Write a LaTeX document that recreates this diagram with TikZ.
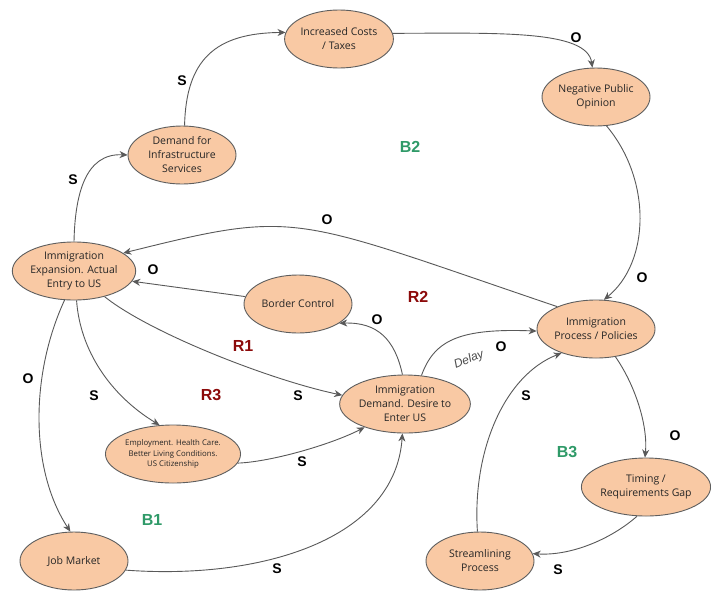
\documentclass[tikz,border=0pt]{standalone}
\usepackage{fontspec}
\setmainfont{Open Sans}
\newfontfamily\lblfont{Liberation Sans}
\usetikzlibrary{shapes.geometric,arrows.meta}
\definecolor{peach}{HTML}{F9C9A4}
\definecolor{nodeline}{HTML}{5E5E5E}
\definecolor{edgeline}{HTML}{595959}
\definecolor{loopgreen}{HTML}{2F9A68}
\definecolor{loopred}{HTML}{8C0A0A}
\tikzset{
  var/.style={ellipse, draw=nodeline, line width=0.9pt, fill=peach, minimum width=108pt, minimum height=58pt, inner sep=0pt, align=center, font=\fontsize{10.5}{14}\selectfont, text=black!85},
  smallvar/.style={var, font=\fontsize{7.8}{10.5}\selectfont},
  link/.style={draw=edgeline, line width=0.9pt, -{Stealth[length=8pt,width=7pt,inset=2.5pt]}},
  pol/.style={font=\lblfont\bfseries\fontsize{14}{14}\selectfont, inner sep=0pt},
  loopg/.style={font=\lblfont\bfseries\fontsize{16}{16}\selectfont, text=loopgreen, inner sep=0pt},
  loopr/.style={font=\lblfont\bfseries\fontsize{16}{16}\selectfont, text=loopred, inner sep=0pt},
}
\begin{document}
\begin{tikzpicture}[x=1pt,y=1pt]
\useasboundingbox (0,0) rectangle (711,-600);
\fill[white] (0,0) rectangle (711,-600);
% nodes
\node[var] (cost) at (339,-39) {Increased Costs\\/ Taxes};
\node[var] (neg) at (596,-97) {Negative Public\\Opinion};
\node[var] (infra) at (182,-155) {Demand for\\Infrastructure\\Services};
\node[var] (exp) at (74,-271) {Immigration\\Expansion. Actual\\Entry to US};
\node[var] (border) at (298,-304) {Border Control};
\node[var] (proc) at (596,-329) {Immigration\\Process / Policies};
\node[var, minimum width=110pt] (dem) at (405,-404) {Immigration\\Demand. Desire to\\Enter US};
\node[smallvar] (emp) at (173,-454) {Employment. Health Care.\\Better Living Conditions.\\US Citizenship};
\node[var] (job) at (74,-561) {Job Market};
\node[var] (timing) at (646,-487) {Timing /\\Requirements Gap};
\node[var] (stream) at (480,-561) {Streamlining\\Process};
% connectors
\draw[link] (infra.85) .. controls (186,-60) and (215,-33) .. (cost.173);
\draw[link] (cost.6) .. controls (500,-33) and (587,-30) .. (neg.97);
\draw[link] (neg.-70) .. controls (652,-180) and (650,-262) .. (proc.75);
\draw[link] (exp.90) .. controls (75,-195) and (85,-153) .. (infra.180);
\draw[link] (proc.150) .. controls (290,-216) and (300,-209) .. (exp.20);
\draw[link] (border.172) -- (exp.-10);
\draw[link] (dem.95) .. controls (395,-340) and (378,-322) .. (border.-25);
\draw[link] (dem.60) .. controls (434,-341) and (458,-328) .. (proc.182);
\draw[link] (exp.-40) .. controls (150,-333) and (270,-380) .. (dem.172);
\draw[link] (exp.-85) .. controls (80,-350) and (110,-395) .. (emp.115);
\draw[link] (emp.-8) .. controls (270,-462) and (330,-445) .. (dem.-150);
\draw[link] (exp.-108) .. controls (30,-375) and (30,-470) .. (job.97);
\draw[link] (job.-10) .. controls (260,-580) and (395,-540) .. (dem.-95);
\draw[link] (proc.-55) .. controls (635,-385) and (648,-425) .. (timing.92);
\draw[link] (timing.-107) .. controls (610,-540) and (570,-556) .. (stream.8);
\draw[link] (stream.95) .. controls (472,-450) and (505,-375) .. (proc.-145);
% polarity labels
\node[pol] (l1) at (182,-81) {S};
\node[pol] (l2) at (576,-38) {O};
\node[pol] (l3) at (642,-278) {O};
\node[pol] (l4) at (73,-180) {S};
\node[pol] (l5) at (327,-220) {O};
\node[pol] (l6) at (153,-270) {O};
\node[pol] (l7) at (377,-320) {O};
\node[pol] (l8) at (501,-347) {O};
\node[pol] (l9) at (298,-396) {S};
\node[pol] (l10) at (94,-396) {S};
\node[pol] (l11) at (28,-379) {O};
\node[pol] (l12) at (302,-462) {S};
\node[pol] (l13) at (277,-569) {S};
\node[pol] (l14) at (526,-396) {S};
\node[pol] (l15) at (675,-436) {O};
\node[pol] (l16) at (558,-570) {S};
\node[font=\lblfont\itshape\fontsize{12}{12}\selectfont, text=black!70, rotate=22, inner sep=0pt] (delay) at (469,-360) {Delay};
% loop labels
\node[loopg] (b1) at (152,-520) {B1};
\node[loopg] (b2) at (410,-147) {B2};
\node[loopg] (b3) at (567,-452) {B3};
\node[loopr] (r1) at (243,-346) {R1};
\node[loopr] (r2) at (418,-297) {R2};
\node[loopr] (r3) at (211,-395) {R3};
\end{tikzpicture}
\end{document}
